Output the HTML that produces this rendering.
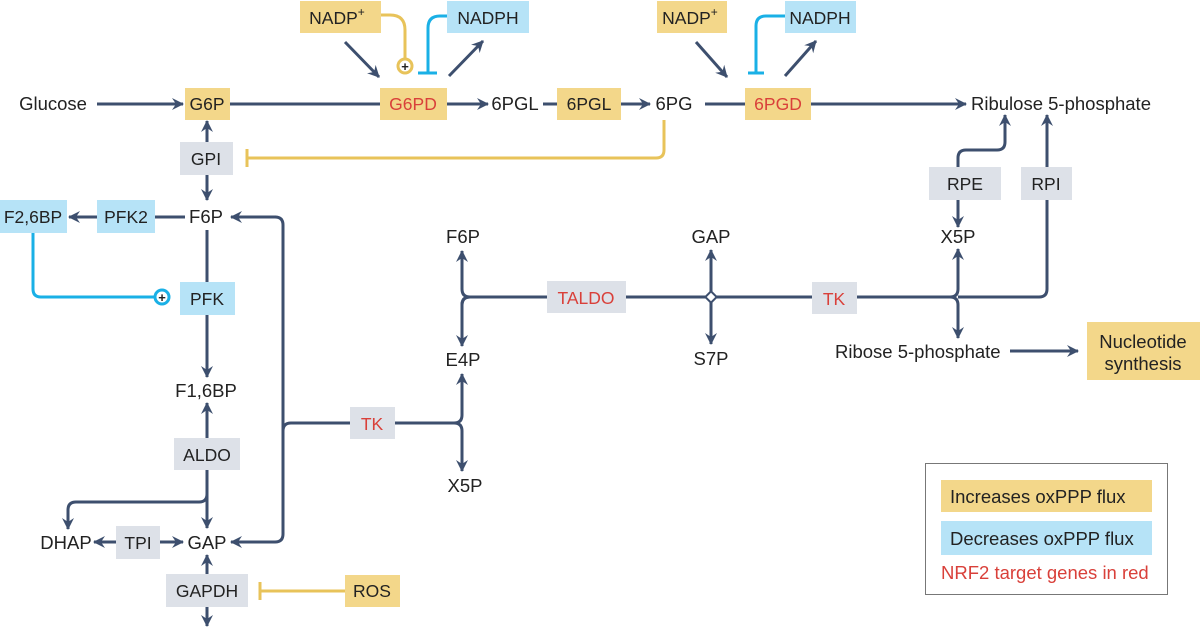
<!DOCTYPE html>
<html><head><meta charset="utf-8"><style>
html,body{margin:0;padding:0;background:#fff;}
svg{display:block;}
text{font-family:"Liberation Sans",sans-serif;font-size:18.5px;fill:#222;}
.s{font-size:17.5px;}
.r{fill:#d9403a;}
</style></head><body>
<svg width="1200" height="627" viewBox="0 0 1200 627" xmlns="http://www.w3.org/2000/svg">
<defs>
<marker id="a" markerWidth="14" markerHeight="14" refX="11" refY="7" orient="auto" markerUnits="userSpaceOnUse">
<path d="M0,1 L12,7 L0,13 L4,7 Z" fill="#3d4f6e"/>
</marker>
</defs>
<g>
<rect x="300" y="1" width="81" height="32" fill="#f3d78a"/>
<rect x="447" y="1" width="82" height="32" fill="#b6e3f7"/>
<rect x="657" y="1" width="70" height="32" fill="#f3d78a"/>
<rect x="785" y="1" width="71" height="32" fill="#b6e3f7"/>
<rect x="185" y="88" width="45" height="32" fill="#f3d78a"/>
<rect x="380" y="88" width="67" height="32" fill="#f3d78a"/>
<rect x="557" y="88" width="64" height="32" fill="#f3d78a"/>
<rect x="745" y="88" width="66" height="32" fill="#f3d78a"/>
<rect x="180" y="142" width="53" height="33" fill="#dde1e8"/>
<rect x="0" y="200" width="67" height="33" fill="#b6e3f7"/>
<rect x="97" y="200" width="58" height="33" fill="#b6e3f7"/>
<rect x="180" y="282" width="55" height="33" fill="#b6e3f7"/>
<rect x="174" y="438" width="66" height="32" fill="#dde1e8"/>
<rect x="116" y="526" width="44" height="33" fill="#dde1e8"/>
<rect x="166" y="574" width="82" height="33" fill="#dde1e8"/>
<rect x="345" y="575" width="55" height="32" fill="#f3d78a"/>
<rect x="929" y="167" width="72" height="33" fill="#dde1e8"/>
<rect x="1087" y="322" width="113" height="58" fill="#f3d78a"/>
<rect x="925.5" y="463.5" width="242" height="131" fill="none" stroke="#777" stroke-width="1"/>
<rect x="941" y="480" width="211" height="32" fill="#f3d78a"/>
<rect x="941" y="521" width="211" height="34" fill="#b6e3f7"/>
</g>
<g stroke="#3d4f6e" stroke-width="3" fill="none">
<line x1="97" y1="104" x2="183" y2="104" marker-end="url(#a)"/>
<line x1="230" y1="104" x2="380" y2="104"/>
<line x1="447" y1="104" x2="488" y2="104" marker-end="url(#a)"/>
<line x1="543" y1="104" x2="557" y2="104"/>
<line x1="621" y1="104" x2="650" y2="104" marker-end="url(#a)"/>
<line x1="705" y1="104" x2="745" y2="104"/>
<line x1="811" y1="104" x2="966" y2="104" marker-end="url(#a)"/>
<line x1="345" y1="42" x2="379" y2="77" marker-end="url(#a)"/>
<line x1="449" y1="76" x2="483" y2="41" marker-end="url(#a)"/>
<line x1="696" y1="42" x2="727" y2="77" marker-end="url(#a)"/>
<line x1="785" y1="76" x2="816" y2="41" marker-end="url(#a)"/>
<line x1="207" y1="142" x2="207" y2="121" marker-end="url(#a)"/>
<line x1="207" y1="175" x2="207" y2="200" marker-end="url(#a)"/>
<line x1="155" y1="217" x2="185" y2="217"/>
<line x1="97" y1="217" x2="69" y2="217" marker-end="url(#a)"/>
<line x1="207" y1="230" x2="207" y2="282"/>
<line x1="207" y1="315" x2="207" y2="377" marker-end="url(#a)"/>
<line x1="207" y1="438" x2="207" y2="403" marker-end="url(#a)"/>
<line x1="207" y1="470" x2="207" y2="528" marker-end="url(#a)"/>
<path d="M207,494 Q207,502 199,502 L76,502 Q68,502 68,510 L68,529" marker-end="url(#a)"/>
<line x1="116" y1="542" x2="94" y2="542" marker-end="url(#a)"/>
<line x1="160" y1="542" x2="183" y2="542" marker-end="url(#a)"/>
<line x1="207" y1="574" x2="207" y2="555" marker-end="url(#a)"/>
<line x1="207" y1="607" x2="207" y2="626" marker-end="url(#a)"/>
<path d="M275,217 Q283,217 283,225 L283,534 Q283,542 275,542 L231,542" marker-end="url(#a)"/>
<line x1="276" y1="217" x2="231" y2="217" marker-end="url(#a)"/>
<path d="M283,431 Q283,423 291,423 L454,423 Q462,423 462,415 L462,374" marker-end="url(#a)"/>
<path d="M454,423 Q462,423 462,431 L462,471" marker-end="url(#a)"/>
<path d="M462,305 Q462,297 470,297 L950,297 Q958,297 958,289 L958,249" marker-end="url(#a)"/>
<path d="M470,297 Q462,297 462,289 L462,251" marker-end="url(#a)"/>
<path d="M470,297 Q462,297 462,305 L462,346" marker-end="url(#a)"/>
<path d="M950,297 Q958,297 958,305 L958,338" marker-end="url(#a)"/>
<path d="M958,297 L1039,297 Q1047,297 1047,289 L1047,115" marker-end="url(#a)"/>
<line x1="711" y1="297" x2="711" y2="250" marker-end="url(#a)"/>
<line x1="711" y1="297" x2="711" y2="344" marker-end="url(#a)"/>
<line x1="958" y1="200" x2="958" y2="227" marker-end="url(#a)"/>
<path d="M958,167 L958,158 Q958,150 966,150 L997,150 Q1005,150 1005,142 L1005,115" marker-end="url(#a)"/>
<line x1="1010" y1="351" x2="1078" y2="351" marker-end="url(#a)"/>
</g>
<rect x="350" y="407" width="45" height="32" fill="#dde1e8"/>
<rect x="812" y="282" width="45" height="32" fill="#dde1e8"/>
<rect x="1021" y="167" width="51" height="33" fill="#dde1e8"/>
<rect x="547" y="281" width="79" height="32" fill="#dde1e8"/>
<rect x="707" y="293" width="8" height="8" fill="#fff" stroke="#3d4f6e" stroke-width="2" transform="rotate(45 711 297)"/>
<g stroke="#e8c35a" stroke-width="3" fill="none">
<path d="M381,15 L390,15 Q405,15 405,30 L405,59"/>
<circle cx="405" cy="66" r="7" fill="#fff"/>
<path d="M664,120 L664,150 Q664,158 656,158 L247,158"/>
<line x1="247" y1="149" x2="247" y2="167"/>
<line x1="345" y1="591" x2="260" y2="591"/>
<line x1="260" y1="582" x2="260" y2="600"/>
</g>
<g stroke="#1ab0e6" stroke-width="3" fill="none">
<path d="M447,16 L440,16 Q428,16 428,28 L428,73"/>
<line x1="418" y1="73" x2="437" y2="73"/>
<path d="M785,16 L766,16 Q756,16 756,26 L756,73"/>
<line x1="748" y1="73" x2="764" y2="73"/>
<path d="M33,233 L33,289 Q33,297 41,297 L155,297"/>
<circle cx="162" cy="297" r="7" fill="#fff"/>
</g>
<g text-anchor="middle">
<text x="405" y="71" style="font-size:13px;font-weight:bold">+</text>
<text x="162" y="302" style="font-size:13px;font-weight:bold">+</text>
</g>
<g text-anchor="middle">
<text x="337" y="24" class="s">NADP<tspan dy="-8" font-size="12">+</tspan></text>
<text x="488" y="24" class="s">NADPH</text>
<text x="690" y="24" class="s">NADP<tspan dy="-8" font-size="12">+</tspan></text>
<text x="820" y="24" class="s">NADPH</text>
<text x="53" y="110">Glucose</text>
<text x="207" y="110" class="s">G6P</text>
<text x="413" y="110" class="s r">G6PD</text>
<text x="515" y="110">6PGL</text>
<text x="589" y="110" class="s">6PGL</text>
<text x="674" y="110">6PG</text>
<text x="778" y="110" class="s r">6PGD</text>
<text x="206" y="165" class="s">GPI</text>
<text x="33" y="223" class="s">F2,6BP</text>
<text x="126" y="223" class="s">PFK2</text>
<text x="206" y="223">F6P</text>
<text x="207" y="305" class="s">PFK</text>
<text x="206" y="397">F1,6BP</text>
<text x="207" y="461" class="s">ALDO</text>
<text x="66" y="549">DHAP</text>
<text x="138" y="549" class="s">TPI</text>
<text x="207" y="549">GAP</text>
<text x="207" y="597" class="s">GAPDH</text>
<text x="372" y="597" class="s">ROS</text>
<text x="372" y="430" class="s r">TK</text>
<text x="463" y="243">F6P</text>
<text x="463" y="366">E4P</text>
<text x="465" y="492">X5P</text>
<text x="586" y="304" class="s r">TALDO</text>
<text x="711" y="243">GAP</text>
<text x="711" y="365">S7P</text>
<text x="834" y="305" class="s r">TK</text>
<text x="965" y="190" class="s">RPE</text>
<text x="1046" y="190" class="s">RPI</text>
<text x="958" y="243">X5P</text>
<text x="1143" y="348">Nucleotide</text>
<text x="1143" y="370">synthesis</text>
</g>
<text x="971" y="110">Ribulose 5-phosphate</text>
<text x="835" y="358">Ribose 5-phosphate</text>
<text x="950" y="503">Increases oxPPP flux</text>
<text x="950" y="545">Decreases oxPPP flux</text>
<text x="941" y="579" class="r">NRF2 target genes in red</text>
</svg>
</body></html>
